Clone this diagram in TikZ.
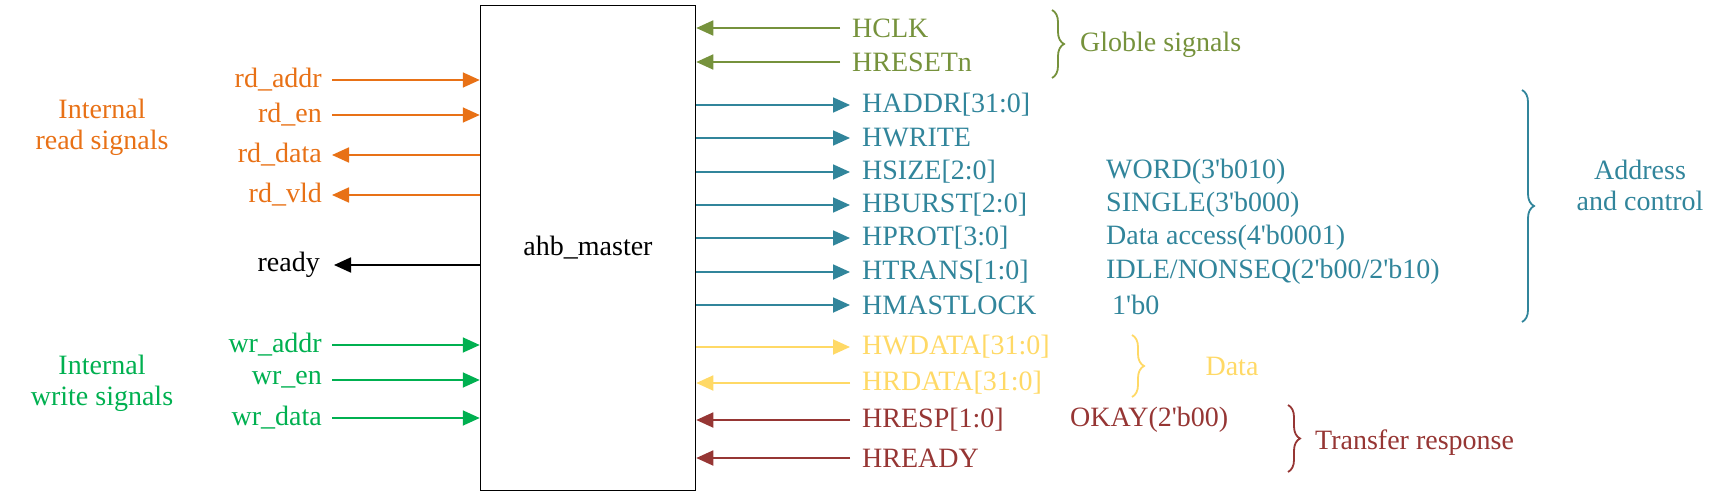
\documentclass[tikz,border=0pt]{standalone}
\usepackage{fontspec}
\setmainfont{Liberation Serif}
\usetikzlibrary{arrows.meta,decorations.pathreplacing,positioning}
\definecolor{rdcol}{RGB}{232,113,22}
\definecolor{wrcol}{RGB}{0,176,80}
\definecolor{glcol}{RGB}{118,146,60}
\definecolor{accol}{RGB}{49,133,155}
\definecolor{dtcol}{RGB}{255,217,102}
\definecolor{trcol}{RGB}{150,54,52}
\newcommand{\q}{\textquotesingle}
\tikzset{
  sig/.style={inner sep=0pt,font=\fontsize{28}{31}\selectfont},
  wire/.style={line width=1.8pt,-{Triangle[length=17pt,width=15pt]}},
  grp/.style={line width=1.8pt,decorate,decoration={brace,amplitude=12pt}},
}
\begin{document}
\begin{tikzpicture}[x=1pt,y=-1pt]
  \useasboundingbox (0,0) rectangle (1718,493);
  % the master block
  \node (box) [draw,line width=1.5pt,minimum width=215pt,minimum height=485pt,
               sig] at (588,248) {ahb\_master};

  % internal read signals
  \node (rdaddr) [sig,anchor=east,rdcol] at (322,80)  {rd\_addr};
  \node (rden)   [sig,anchor=east,rdcol] at (322,115) {rd\_en};
  \node (rddata) [sig,anchor=east,rdcol] at (322,155) {rd\_data};
  \node (rdvld)  [sig,anchor=east,rdcol] at (322,195) {rd\_vld};
  \draw[wire,rdcol] ([xshift=10pt]rdaddr.east) -- (box.west |- rdaddr);
  \draw[wire,rdcol] ([xshift=10pt]rden.east) -- (box.west |- rden);
  \draw[wire,rdcol] (box.west |- rddata) -- ([xshift=10pt]rddata.east);
  \draw[wire,rdcol] (box.west |- rdvld) -- ([xshift=10pt]rdvld.east);
  \node (rdgrp) [sig,rdcol,align=center] at (102,127) {Internal\\read signals};

  % ready
  \node (ready) [sig,anchor=east] at (320,265) {ready};
  \draw[wire] (box.west |- ready) -- ([xshift=14pt]ready.east);

  % internal write signals
  \node (wraddr) [sig,anchor=east,wrcol] at (322,345) {wr\_addr};
  \node (wren)   [sig,anchor=east,wrcol] at (322,380) {wr\_en};
  \node (wrdata) [sig,anchor=east,wrcol] at (322,418) {wr\_data};
  \foreach \s in {wraddr,wren,wrdata}
    \draw[wire,wrcol] ([xshift=10pt]\s.east) -- (box.west |- \s);
  \node (wrgrp) [sig,wrcol,align=center] at (102,383) {Internal\\write signals};

  % globle signals
  \node (hclk)   [sig,anchor=west,glcol] at (852,28) {HCLK};
  \node (hreset) [sig,anchor=west,glcol] at (852,62) {HRESETn};
  \foreach \s in {hclk,hreset}
    \draw[wire,glcol] ([xshift=-12pt]\s.west) -- (box.east |- \s);
  \draw[grp,glcol] (1052,10) -- (1052,78);
  \node (glgrp) [sig,anchor=west,glcol] at (1080,45) {Globle signals};

  % address and control
  \foreach \n/\t/\y in {haddr/HADDR[31:0]/105,hwrite/HWRITE/138,hsize/HSIZE[2:0]/172,
      hburst/HBURST[2:0]/205,hprot/HPROT[3:0]/238,htrans/HTRANS[1:0]/272,hlock/HMASTLOCK/305}{
    \node (\n) [sig,anchor=west,accol] at (862,\y) {\t};
    \draw[wire,accol] (box.east |- \n) -- ([xshift=-12pt]\n.west);
  }
  \node (vsize)  [sig,anchor=west,accol] at (1106,172) {WORD(3\q b010)};
  \node (vburst) [sig,anchor=west,accol] at (1106,205) {SINGLE(3\q b000)};
  \node (vprot)  [sig,anchor=west,accol] at (1106,238) {Data access(4\q b0001)};
  \node (vtrans) [sig,anchor=west,accol] at (1106,272) {IDLE/NONSEQ(2\q b00/2\q b10)};
  \node (vlock)  [sig,anchor=west,accol] at (1112,305) {1\q b0};
  \draw[grp,accol] (1522,90) -- (1522,322);
  \node (acgrp) [sig,accol,align=center] at (1640,185) {Address\\and control};

  % data
  \node (hwdata) [sig,anchor=west,dtcol] at (862,347) {HWDATA[31:0]};
  \node (hrdata) [sig,anchor=west,dtcol] at (862,383) {HRDATA[31:0]};
  \draw[wire,dtcol] (box.east |- hwdata) -- ([xshift=-12pt]hwdata.west);
  \draw[wire,dtcol] ([xshift=-12pt]hrdata.west) -- (box.east |- hrdata);
  \draw[grp,dtcol] (1132,335) -- (1132,397);
  \node (dtgrp) [sig,dtcol] at (1232,366) {Data};

  % transfer response
  \node (hresp)  [sig,anchor=west,trcol] at (862,420) {HRESP[1:0]};
  \node (hready) [sig,anchor=west,trcol] at (862,458) {HREADY};
  \foreach \s in {hresp,hready}
    \draw[wire,trcol] ([xshift=-12pt]\s.west) -- (box.east |- \s);
  \node (vresp) [sig,anchor=west,trcol] at (1070,420) {OKAY(2\q b00)};
  \draw[grp,trcol] (1288,405) -- (1288,472);
  \node (trgrp) [sig,anchor=west,trcol] at (1315,443) {Transfer response};
\end{tikzpicture}
\end{document}
